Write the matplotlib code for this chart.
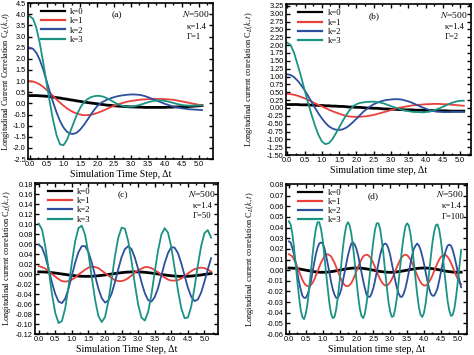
import numpy as np
import matplotlib
matplotlib.use("Agg")
import matplotlib.pyplot as plt
from matplotlib.ticker import MultipleLocator, FormatStrFormatter

plt.rcParams['font.family'] = ['Liberation Serif', 'DejaVu Serif']
plt.rcParams['mathtext.fontset'] = 'stix'

labels = ["k=0", "k=1", "k=2", "k=3"]
colors = ["#000000", "#e8413c", "#2c4f9e", "#1b9384"]

# ---- panel (a): Gamma = 1 ----
t_a = np.round(np.arange(52) * 0.1, 2)
a_k0 = [0.35,0.35,0.35,0.34,0.33,0.32,0.30,0.28,0.26,0.24,
        0.21,0.19,0.16,0.14,0.11,0.09,0.06,0.04,0.02,0.00,
        -0.02,-0.04,-0.06,-0.08,-0.09,-0.11,-0.12,-0.13,-0.14,-0.15,
        -0.16,-0.16,-0.17,-0.17,-0.18,-0.18,-0.18,-0.18,-0.18,-0.18,
        -0.18,-0.17,-0.17,-0.16,-0.16,-0.15,-0.15,-0.14,-0.13,-0.12,
        -0.11,-0.10]
a_k1 = [1.00,0.98,0.93,0.85,0.74,0.61,0.47,0.32,0.17,0.03,
        -0.10,-0.22,-0.32,-0.40,-0.46,-0.50,-0.53,-0.53,-0.51,-0.48,
        -0.43,-0.37,-0.31,-0.24,-0.17,-0.11,-0.05,0.00,0.04,0.08,
        0.11,0.13,0.15,0.17,0.18,0.19,0.19,0.20,0.20,0.20,
        0.19,0.18,0.17,0.15,0.12,0.09,0.06,0.03,0.00,-0.03,
        -0.06,-0.09]
a_k2 = [2.50,2.45,2.27,1.95,1.52,1.02,0.50,0.02,-0.42,-0.80,
        -1.08,-1.27,-1.36,-1.37,-1.31,-1.17,-0.98,-0.76,-0.53,-0.31,
        -0.12,0.01,0.10,0.17,0.23,0.28,0.32,0.35,0.37,0.39,
        0.40,0.40,0.39,0.37,0.33,0.28,0.22,0.16,0.10,0.04,
        -0.02,-0.07,-0.12,-0.16,-0.19,-0.22,-0.24,-0.26,-0.27,-0.28,
        -0.29,-0.30]
a_k3 = [3.92,3.80,3.38,2.70,1.85,0.92,0.02,-0.80,-1.45,-1.84,
        -1.88,-1.65,-1.28,-0.88,-0.50,-0.19,0.04,0.18,0.27,0.32,
        0.34,0.33,0.29,0.22,0.14,0.05,-0.03,-0.09,-0.13,-0.15,
        -0.15,-0.13,-0.09,-0.05,0.00,0.05,0.09,0.12,0.13,0.13,
        0.11,0.08,0.04,0.00,-0.04,-0.07,-0.09,-0.10,-0.10,-0.10,
        -0.09,-0.09]

# ---- panel (b): Gamma = 2 ----
t_b = np.round(np.arange(52) * 0.1, 2)
b_k0 = [0.11,0.11,0.11,0.11,0.10,0.10,0.10,0.09,0.09,0.08,
        0.08,0.07,0.07,0.06,0.06,0.05,0.05,0.04,0.03,0.03,
        0.02,0.02,0.01,0.00,0.00,-0.01,-0.01,-0.02,-0.03,-0.03,
        -0.04,-0.04,-0.05,-0.05,-0.06,-0.06,-0.06,-0.07,-0.07,-0.07,
        -0.08,-0.08,-0.08,-0.09,-0.09,-0.09,-0.09,-0.10,-0.10,-0.10,
        -0.10,-0.10]
b_k1 = [0.45,0.44,0.42,0.39,0.35,0.31,0.26,0.21,0.15,0.10,
        0.05,0.00,-0.05,-0.10,-0.14,-0.18,-0.22,-0.25,-0.27,-0.28,
        -0.28,-0.28,-0.27,-0.26,-0.24,-0.22,-0.19,-0.16,-0.13,-0.10,
        -0.06,-0.03,0.00,0.02,0.04,0.06,0.08,0.09,0.10,0.11,
        0.12,0.12,0.13,0.13,0.13,0.12,0.12,0.11,0.10,0.09,
        0.08,0.07]
b_k2 = [1.07,1.05,0.98,0.87,0.73,0.57,0.39,0.20,0.01,-0.17,
        -0.33,-0.47,-0.58,-0.65,-0.69,-0.70,-0.68,-0.63,-0.55,-0.45,
        -0.34,-0.23,-0.12,-0.03,0.05,0.12,0.17,0.21,0.24,0.26,
        0.27,0.28,0.28,0.27,0.24,0.21,0.17,0.12,0.07,0.02,
        -0.02,-0.06,-0.09,-0.11,-0.12,-0.13,-0.13,-0.13,-0.12,-0.12,
        -0.12,-0.12]
b_k3 = [2.08,2.00,1.75,1.38,1.00,0.58,0.18,-0.20,-0.55,-0.85,
        -1.06,-1.15,-1.12,-1.00,-0.82,-0.62,-0.42,-0.23,-0.07,0.05,
        0.12,0.16,0.18,0.19,0.20,0.20,0.19,0.17,0.14,0.10,
        0.06,0.02,-0.02,-0.05,-0.08,-0.10,-0.12,-0.13,-0.13,-0.14,
        -0.13,-0.12,-0.09,-0.05,-0.01,0.04,0.09,0.14,0.18,0.21,
        0.23,0.23]

# ---- panel (c): Gamma = 50 ----
t_c = np.round(np.arange(53) * 0.1, 2)
c_k0 = [0.0045,0.0044,0.0041,0.0036,0.0029,0.0021,0.0012,0.0002,-0.0007,-0.0017,
        -0.0025,-0.0033,-0.0039,-0.0043,-0.0045,-0.0045,-0.0043,-0.0039,-0.0033,-0.0025,
        -0.0017,-0.0007,0.0002,0.0012,0.0021,0.0029,0.0036,0.0041,0.0044,0.0045,
        0.0044,0.0041,0.0036,0.0029,0.0021,0.0012,0.0002,-0.0007,-0.0017,-0.0025,
        -0.0033,-0.0039,-0.0043,-0.0045,-0.0045,-0.0043,-0.0039,-0.0033,-0.0025,-0.0017,
        -0.0007,0.0002,0.0012]
c_k1 = [0.016,0.014,0.011,0.006,0.000,-0.005,-0.010,-0.014,-0.015,-0.014,
        -0.011,-0.007,-0.001,0.004,0.009,0.013,0.015,0.014,0.012,0.007,
        0.002,-0.003,-0.008,-0.012,-0.014,-0.014,-0.012,-0.008,-0.003,0.003,
        0.008,0.011,0.014,0.014,0.012,0.008,0.004,-0.002,-0.007,-0.011,
        -0.013,-0.013,-0.012,-0.009,-0.004,0.001,0.006,0.010,0.012,0.013,
        0.012,0.009,0.005]
c_k2 = [0.059,0.053,0.035,0.010,-0.017,-0.040,-0.055,-0.058,-0.049,-0.029,
        -0.003,0.023,0.044,0.056,0.056,0.044,0.023,-0.003,-0.029,-0.048,
        -0.057,-0.053,-0.039,-0.016,0.010,0.034,0.050,0.056,0.050,0.033,
        0.010,-0.016,-0.038,-0.052,-0.055,-0.046,-0.028,-0.003,0.022,0.042,
        0.054,0.053,0.042,0.022,-0.003,-0.027,-0.045,-0.054,-0.051,-0.037,
        -0.015,0.009,0.032]
c_k3 = [0.101,0.089,0.055,0.009,-0.040,-0.078,-0.098,-0.094,-0.068,-0.025,
        0.023,0.066,0.092,0.097,0.078,0.041,-0.006,-0.051,-0.084,-0.096,
        -0.086,-0.055,-0.011,0.036,0.073,0.093,0.091,0.066,0.026,-0.020,
        -0.061,-0.087,-0.093,-0.076,-0.041,0.004,0.047,0.079,0.092,0.083,
        0.054,0.012,-0.032,-0.068,-0.088,-0.087,-0.065,-0.027,0.017,0.056,
        0.082,0.088,0.073]

# ---- panel (d): Gamma = 100 ----
t_d = np.round(np.arange(103) * 0.05, 3)
d_k0 = [0.0020,0.0020,0.0019,0.0018,0.0016,0.0014,0.0012,0.0009,0.0006,0.0003,
        0.0000,-0.0003,-0.0006,-0.0009,-0.0012,-0.0014,-0.0016,-0.0018,-0.0019,-0.0020,
        -0.0020,-0.0020,-0.0019,-0.0018,-0.0016,-0.0014,-0.0012,-0.0009,-0.0006,-0.0003,
        0.0000,0.0003,0.0006,0.0009,0.0012,0.0014,0.0016,0.0018,0.0019,0.0020,
        0.0020,0.0020,0.0019,0.0018,0.0016,0.0014,0.0012,0.0009,0.0006,0.0003,
        0.0000,-0.0003,-0.0006,-0.0009,-0.0012,-0.0014,-0.0016,-0.0018,-0.0019,-0.0020,
        -0.0020,-0.0020,-0.0019,-0.0018,-0.0016,-0.0014,-0.0012,-0.0009,-0.0006,-0.0003,
        0.0000,0.0003,0.0006,0.0009,0.0012,0.0014,0.0016,0.0018,0.0019,0.0020,
        0.0020,0.0020,0.0019,0.0018,0.0016,0.0014,0.0012,0.0009,0.0006,0.0003,
        0.0000,-0.0003,-0.0006,-0.0009,-0.0012,-0.0014,-0.0016,-0.0018,-0.0019,-0.0020,
        -0.0020,-0.0020,-0.0019]
d_k1 = [0.015,0.014,0.013,0.010,0.007,0.003,-0.001,-0.005,-0.009,-0.012,
        -0.014,-0.015,-0.015,-0.014,-0.012,-0.009,-0.005,-0.001,0.003,0.007,
        0.010,0.013,0.014,
        0.015,0.014,0.013,0.010,0.007,0.003,-0.001,-0.005,-0.009,-0.012,
        -0.014,-0.015,-0.015,-0.014,-0.012,-0.009,-0.005,-0.001,0.003,0.007,
        0.010,0.013,0.014,
        0.0145,0.0140,0.0124,0.0099,0.0067,0.0030,-0.0010,-0.0049,-0.0084,-0.0112,
        -0.0133,-0.0144,-0.0144,-0.0133,-0.0112,-0.0084,-0.0049,-0.0010,0.0030,0.0067,
        0.0099,0.0124,0.0140,
        0.0145,0.0140,0.0124,0.0099,0.0067,0.0030,-0.0010,-0.0049,-0.0084,-0.0112,
        -0.0133,-0.0144,-0.0144,-0.0133,-0.0112,-0.0084,-0.0049,-0.0010,0.0030,0.0067,
        0.0099,0.0124,0.0140,
        0.0145,0.0140,0.0124,0.0099,0.0067,0.0030,-0.0010,-0.0049,-0.0084,-0.0112,
        -0.0133]
d_k2 = [0.027,0.026,0.021,0.015,0.007,-0.002,-0.011,-0.018,-0.024,-0.026,
        -0.026,-0.023,-0.018,-0.011,-0.002,0.007,0.015,0.021,0.025,0.026,
        0.025,0.021,0.014,0.006,-0.002,-0.011,-0.018,-0.023,-0.026,-0.026,
        -0.023,-0.018,-0.010,-0.002,0.006,0.014,0.020,0.025,0.026,0.024,
        0.020,0.014,0.006,-0.002,-0.010,-0.017,-0.023,-0.025,-0.025,-0.022,
        -0.017,-0.010,-0.002,0.006,0.014,0.020,0.024,0.025,0.024,0.020,
        0.014,0.006,-0.002,-0.010,-0.017,-0.022,-0.025,-0.025,-0.022,-0.017,
        -0.010,-0.002,0.006,0.014,0.020,0.023,0.025,0.023,0.019,0.013,
        0.006,-0.002,-0.010,-0.017,-0.022,-0.024,-0.024,-0.021,-0.017,-0.010,
        -0.002,0.006,0.013,0.019,0.023,0.024,0.023,0.019,0.013,0.006,
        -0.002,-0.010,-0.016]
d_k3 = [0.046,0.043,0.035,0.022,0.006,-0.010,-0.025,-0.037,-0.044,-0.046,
        -0.041,-0.032,-0.018,-0.002,0.014,0.028,0.039,0.045,0.045,0.039,
        0.029,0.014,-0.002,-0.017,-0.031,-0.041,-0.045,-0.044,-0.037,-0.025,
        -0.011,0.005,0.021,0.033,0.042,0.045,0.042,0.034,0.022,0.007,
        -0.009,-0.024,-0.036,-0.043,-0.045,-0.041,-0.031,-0.018,-0.003,0.013,
        0.027,0.038,0.044,0.044,0.039,0.028,0.015,-0.001,-0.016,-0.030,
        -0.039,-0.044,-0.043,-0.036,-0.025,-0.011,0.005,0.020,0.032,0.041,
        0.044,0.042,0.034,0.022,0.007,-0.008,-0.023,-0.035,-0.042,-0.044,
        -0.040,-0.031,-0.018,-0.003,0.012,0.026,0.036,0.042,0.043,0.038,
        0.028,0.015,0.000,-0.015,-0.029,-0.038,-0.043,-0.042,-0.036,-0.025,
        -0.011,0.004,0.019]

panels = [
    dict(rect=[0.059, 0.552, 0.390, 0.439], t=t_a, ys=[a_k0, a_k1, a_k2, a_k3],
         xlim=(-0.05, 5.42), ylim=(-2.5, 4.5), ymaj=0.5, yfmt='%.1f',
         tag='(a)', gamma='\u0393=1', ylx=-0.085,
         ylabel=r'Longitudinal Current Correlation C$_L$($k,t$)',
         xlabel='Simulation Time Step, \u0394t'),
    dict(rect=[0.603, 0.563, 0.390, 0.425], t=t_b, ys=[b_k0, b_k1, b_k2, b_k3],
         xlim=(-0.04, 5.3), ylim=(-1.5, 3.3), ymaj=0.25, yfmt='%.2f',
         tag='(b)', gamma='\u0393=2', ylx=-0.165,
         ylabel=r'Longitudinal current correlation C$_L$($k,t$)',
         xlabel='Simulation time step, \u0394t'),
    dict(rect=[0.074, 0.059, 0.386, 0.425], t=t_c, ys=[c_k0, c_k1, c_k2, c_k3],
         xlim=(-0.11, 5.41), ylim=(-0.12, 0.182), ymaj=0.02, yfmt='%.2f',
         tag='(c)', gamma='\u0393=50', ylx=-0.118,
         ylabel=r'Longitudinal current correlation C$_L$($k,t$)',
         xlabel='Simulation Time Step, \u0394t'),
    dict(rect=[0.603, 0.059, 0.382, 0.423], t=t_d, ys=[d_k0, d_k1, d_k2, d_k3],
         xlim=(-0.09, 5.27), ylim=(-0.06, 0.081), ymaj=0.01, yfmt='%.2f',
         tag='(d)', gamma='\u0393=100', ylx=-0.165,
         ylabel=r'Longitudinal current correlation C$_L$($k,t$)',
         xlabel='Simulation time step, \u0394t'),
]

fig = plt.figure(figsize=(4.74, 3.55), dpi=100)
for p in panels:
    ax = fig.add_axes(p['rect'])
    for i, (y, c, lab) in enumerate(zip(p['ys'], colors, labels)):
        ax.plot(p['t'], y, color=c, lw=2.0 if i == 0 else 1.3, label=lab)
    ax.set_xlim(*p['xlim'])
    ax.set_ylim(*p['ylim'])
    ax.xaxis.set_major_locator(MultipleLocator(0.5))
    ax.xaxis.set_minor_locator(MultipleLocator(0.25))
    ax.yaxis.set_major_locator(MultipleLocator(p['ymaj']))
    ax.xaxis.set_major_formatter(FormatStrFormatter('%.1f'))
    ax.yaxis.set_major_formatter(FormatStrFormatter(p['yfmt']))
    ax.tick_params(which='both', direction='in', top=True, right=True,
                   labelsize=5.3, pad=1.5, width=1.0)
    ax.tick_params(which='major', length=2.8)
    ax.tick_params(which='minor', length=1.6)
    for lab in ax.get_xticklabels() + ax.get_yticklabels():
        lab.set_family(['Liberation Sans', 'DejaVu Sans'])
    for s in ax.spines.values():
        s.set_linewidth(1.2)
    ax.set_ylabel(p['ylabel'], fontsize=6.0)
    ax.yaxis.set_label_coords(p['ylx'], 0.5)
    ax.set_xlabel(p['xlabel'], fontsize=7.2, labelpad=1.5)
    leg = ax.legend(loc='upper left', frameon=False, fontsize=6.2,
                    handlelength=2.8, handletextpad=0.6, labelspacing=0.12,
                    borderaxespad=0.2, bbox_to_anchor=(0.04, 1.0))
    for h in leg.get_lines():
        h.set_linewidth(1.6)
    ax.text(0.48, 0.92, p['tag'], transform=ax.transAxes, fontsize=6.8,
            ha='center', va='center')
    ax.text(0.985, 0.93, r'$N$=500', transform=ax.transAxes, fontsize=6.8,
            ha='right', va='center')
    ax.text(0.86, 0.85, '\u03ba=1.4', transform=ax.transAxes, fontsize=6.2,
            ha='left', va='center')
    ax.text(0.86, 0.78, p['gamma'], transform=ax.transAxes, fontsize=6.2,
            ha='left', va='center')

fig.savefig('out.png', dpi=100)
